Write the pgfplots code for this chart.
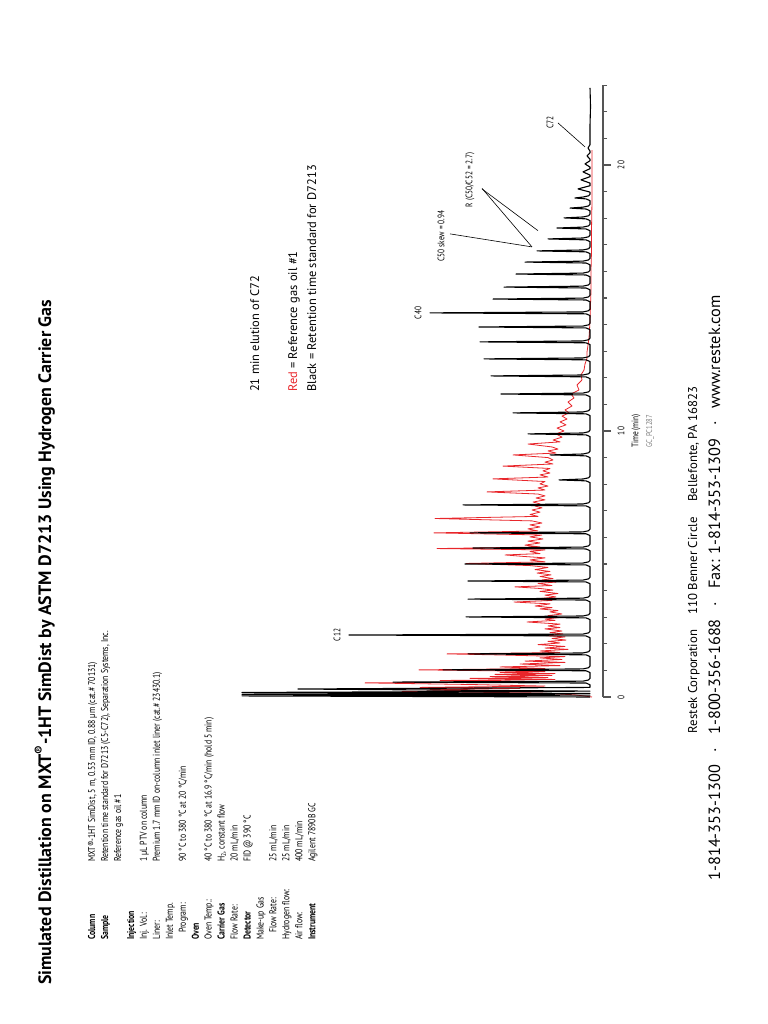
\documentclass[border=0pt]{standalone}
\usepackage{pgfplots}
\pgfplotsset{compat=1.18}
\usepackage{fontspec}
\setmainfont{PT Sans}
\newfontfamily\cond[FakeStretch=0.78]{PT Sans}
\usepackage{graphicx}
\definecolor{rtred}{HTML}{E8262B}
\definecolor{axgray}{HTML}{555555}
\begin{document}
\begin{tikzpicture}[x=1bp,y=1bp]
\path[use as bounding box] (0,0) rectangle (768,1024);
% title
\node[rotate=90, anchor=base west, inner sep=0] at (51,39)
  {\resizebox{685bp}{!}{\fontsize{16}{20}\selectfont\bfseries Simulated Distillation on MXT\textsuperscript{®}-1HT SimDist by ASTM D7213 Using Hydrogen Carrier Gas}};
% info block
\node[rotate=90, anchor=north west, inner sep=0, font=\cond\fontsize{10}{13}\selectfont] at (85.9,84) {%
\begin{tabular}{@{}p{78bp}@{}l@{}}
\textbf{Column} & MXT®-1HT SimDist, 5 m, 0.53 mm ID, 0.88 µm (cat.\# 70131)\\
\textbf{Sample} & Retention time standard for D7213 (C5-C72), Separation Systems, Inc.\\
 & Reference gas oil \#1\\
\textbf{Injection} & \\
Inj. Vol.: & 1 µL PTV on column\\
Liner: & Premium 1.7 mm ID on-column inlet liner (cat.\# 23430.1)\\
Inlet Temp. & \\
\hspace*{7bp}Program: & 90 °C to 380 °C at 20 °C/min\\
\textbf{Oven} & \\
Oven Temp.: & 40 °C to 380 °C at 16.9 °C/min (hold 5 min)\\
\textbf{Carrier Gas} & H\textsubscript{2}, constant flow\\
Flow Rate: & 20 mL/min\\
\textbf{Detector} & FID @ 390 °C\\
Make-up Gas & \\
\hspace*{7bp}Flow Rate: & 25 mL/min\\
Hydrogen flow: & 25 mL/min\\
Air flow: & 400 mL/min\\
\textbf{Instrument} & Agilent 7890B GC\\
\end{tabular}};
% annotations
\node[rotate=90, anchor=base west, inner sep=0, font=\fontsize{12.5}{14}\selectfont] at (259,632) {21 min elution of C72};
\node[rotate=90, anchor=base west, inner sep=0, font=\fontsize{12.5}{14}\selectfont] at (297,632) {{\color{rtred}Red} = Reference gas oil \#1};
\node[rotate=90, anchor=base west, inner sep=0, font=\fontsize{12.5}{14}\selectfont] at (316,632) {Black = Retention time standard for D7213};
% footer
\node[rotate=90, anchor=base, inner sep=0] at (697,464)
  {\resizebox{346bp}{!}{\fontsize{11}{13}\selectfont Restek Corporation\hspace{1.2em}110 Benner Circle\hspace{1.2em}Bellefonte, PA 16823}};
\node[rotate=90, anchor=base, inner sep=0] at (720,436)
  {\resizebox{585bp}{!}{\fontsize{13}{16}\selectfont 1-814-353-1300\hspace{0.8em}·\hspace{0.8em}1-800-356-1688\hspace{0.8em}·\hspace{0.8em}Fax: 1-814-353-1309\hspace{0.8em}·\hspace{0.8em}www.restek.com}};
\begin{axis}[
  at={(240bp,327bp)}, anchor=south west,
  scale only axis, width=363bp, height=611.8bp,
  xmin=-363, xmax=0, ymin=0, ymax=23,
  axis x line=none, axis y line*=right,
  xtick=\empty,
  y axis line style={draw=axgray, line width=1.6bp},
  ytick={0,10,20}, minor ytick={1,...,23},
  tick align=outside,
  major tick length=8bp, minor tick length=4bp,
  tick style={draw=axgray, line width=1.1bp},
  yticklabel style={rotate=90, anchor=north, font=\cond\fontsize{9.5}{10}\selectfont, inner sep=1.5bp},
  yticklabel shift=5bp,
  /pgf/number format/assume math mode=true,
  clip=false, no markers,
]
\addplot[rtred, line width=0.8bp, line join=round] coordinates {
(-11,0.00) (-28,0.08) (-63,0.15) (-201,0.21) (-123,0.24) (-173,0.28) (-83,0.32) (-183,0.36) (-58,0.41) (-133,0.47) (-238,0.53) (-63,0.58) (-163,0.62) (-48,0.66) (-133,0.70) (-55,0.73) (-113,0.77) (-51,0.81) (-108,0.85) (-48,0.88) (-103,0.92) (-58,0.96) (-184,1.02) (-58,1.07) (-103,1.13) (-43,1.18) (-83,1.24) (-38,1.30) (-78,1.35) (-41,1.41) (-63,1.47) (-38,1.52) (-103,1.58) (-156,1.62) (-43,1.67) (-63,1.73) (-35,1.79) (-58,1.84) (-38,1.90) (-65,1.97) (-43,2.03) (-55,2.09) (-37,2.14) (-51,2.20) (-38,2.26) (-58,2.31) (-40,2.37) (-53,2.42) (-41,2.48) (-58,2.56) (-43,2.61) (-55,2.67) (-43,2.74) (-76,2.82) (-48,2.88) (-58,2.93) (-43,2.99) (-55,3.06) (-41,3.12) (-53,3.20) (-45,3.25) (-63,3.31) (-51,3.36) (-68,3.42) (-53,3.50) (-89,3.57) (-51,3.63) (-63,3.70) (-47,3.76) (-58,3.83) (-45,3.89) (-63,3.97) (-50,4.02) (-63,4.08) (-88,4.14) (-51,4.19) (-65,4.27) (-47,4.32) (-61,4.40) (-50,4.45) (-63,4.53) (-52,4.59) (-66,4.66) (-53,4.72) (-68,4.79) (-55,4.87) (-73,4.94) (-137,5.02) (-58,5.08) (-73,5.15) (-58,5.23) (-78,5.28) (-98,5.34) (-63,5.39) (-73,5.47) (-58,5.53) (-166,5.58) (-63,5.64) (-78,5.71) (-63,5.79) (-75,5.86) (-60,5.94) (-73,6.02) (-61,6.09) (-169,6.17) (-65,6.24) (-75,6.32) (-63,6.39) (-73,6.47) (-61,6.54) (-71,6.62) (-168,6.71) (-65,6.79) (-73,6.86) (-63,6.95) (-71,7.03) (-61,7.11) (-68,7.18) (-63,7.26) (-70,7.33) (-58,7.41) (-67,7.48) (-58,7.56) (-65,7.63) (-116,7.71) (-58,7.78) (-65,7.86) (-55,7.93) (-63,8.01) (-58,8.10) (-110,8.20) (-55,8.27) (-63,8.35) (-53,8.42) (-60,8.50) (-53,8.59) (-100,8.68) (-50,8.76) (-58,8.83) (-50,8.91) (-55,9.00) (-90,9.10) (-47,9.17) (-55,9.25) (-45,9.32) (-51,9.40) (-75,9.51) (-43,9.59) (-50,9.66) (-41,9.77) (-47,9.89) (-39,10.00) (-46,10.11) (-37,10.23) (-43,10.34) (-36,10.45) (-41,10.56) (-34,10.68) (-38,10.79) (-31,10.94) (-35,11.09) (-29,11.24) (-32,11.39) (-24,11.54) (-26,11.73) (-21,11.92) (-22,12.11) (-19,12.29) (-18,12.52) (-16,12.74) (-16,12.97) (-15,13.23) (-14,13.50) (-13.5,13.80) (-13,14.17) (-12.5,14.74) (-12,15.30) (-12,16.05) (-11.5,16.80) (-11.5,17.56) (-11,18.68) (-11,19.81) (-11,20.56)
};
\addplot[black, line width=1.1bp, line join=round] coordinates {
(-13,0.00) (-361,0.04) (-13,0.07) (-361,0.10) (-13,0.135) (-361,0.17) (-13,0.22) (-305,0.30) (-13,0.36)
(-13,0.46) (-17,0.525) (-210,0.56) (-20,0.595) (-14.5,0.64) (-13,0.70)
(-13,0.92) (-17,0.985) (-160,1.02) (-20,1.055) (-14.5,1.10) (-13,1.16)
(-13,1.52) (-17,1.585) (-135,1.62) (-20,1.655) (-14.5,1.70) (-13,1.76)
(-13,2.23) (-17,2.295) (-254,2.33) (-20,2.365) (-14.5,2.41) (-13,2.47)
(-13,2.91) (-17,2.975) (-137,3.01) (-20,3.045) (-14.5,3.09) (-13,3.15)
(-13,3.58) (-17,3.645) (-135,3.68) (-20,3.715) (-14.5,3.76) (-13,3.82)
(-13,4.26) (-17,4.325) (-135,4.36) (-20,4.395) (-14.5,4.44) (-13,4.50)
(-13,4.90) (-17,4.965) (-138,5.00) (-20,5.035) (-14.5,5.08) (-13,5.14)
(-13,5.50) (-17,5.565) (-130,5.60) (-20,5.635) (-14.5,5.68) (-13,5.74)
(-13,6.07) (-17,6.135) (-133,6.17) (-20,6.205) (-14.5,6.25) (-13,6.31)
(-13,7.12) (-17,7.185) (-140,7.22) (-20,7.255) (-14.5,7.30) (-13,7.36)
(-13,8.06) (-17,8.125) (-44,8.16) (-20,8.195) (-14.5,8.24) (-13,8.30)
(-13,9.00) (-17,9.065) (-53,9.10) (-20,9.135) (-14.5,9.18) (-13,9.24)
(-13,9.79) (-17,9.855) (-75,9.89) (-20,9.925) (-14.5,9.97) (-13,10.03)
(-13,10.58) (-17,10.645) (-90,10.68) (-20,10.715) (-14.5,10.76) (-13,10.82)
(-13,11.29) (-17,11.355) (-102,11.39) (-20,11.425) (-14.5,11.47) (-13,11.53)
(-13,11.97) (-17,12.035) (-112,12.07) (-20,12.105) (-14.5,12.15) (-13,12.21)
(-13,12.61) (-17,12.675) (-119,12.71) (-20,12.745) (-14.5,12.79) (-13,12.85)
(-13,13.25) (-17,13.315) (-123,13.35) (-20,13.385) (-14.5,13.43) (-13,13.49)
(-13,13.81) (-17,13.875) (-124,13.91) (-20,13.945) (-14.5,13.99) (-13,14.05)
(-13,14.34) (-17,14.405) (-173,14.44) (-20,14.475) (-14.5,14.52) (-13,14.58)
(-13,14.86) (-17,14.925) (-110,14.96) (-20,14.995) (-14.5,15.04) (-13,15.10)
(-13,15.31) (-17,15.375) (-99,15.41) (-20,15.445) (-14.5,15.49) (-13,15.55)
(-13,15.80) (-17,15.865) (-87,15.90) (-20,15.935) (-14.5,15.98) (-13,16.04)
(-13,16.25) (-17,16.315) (-78,16.35) (-20,16.385) (-14.5,16.43) (-13,16.49)
(-13,16.67) (-17,16.735) (-66,16.77) (-20,16.805) (-14.5,16.85) (-13,16.91)
(-13,17.12) (-17,17.185) (-55,17.22) (-20,17.255) (-14.5,17.30) (-13,17.36)
(-13,17.53) (-17,17.595) (-46,17.63) (-20,17.665) (-14.5,17.71) (-13,17.77)
(-13,17.91) (-17,17.975) (-39,18.01) (-20,18.045) (-14.5,18.09) (-13,18.15)
(-13,18.28) (-17,18.345) (-33,18.38) (-20,18.415) (-14.5,18.46) (-13,18.52)
(-13,18.66) (-17,18.725) (-28,18.76) (-20,18.795) (-14.5,18.84) (-13,18.90)
(-13,18.98) (-25,19.10) (-13,19.22)
(-13,19.32) (-22,19.44) (-13,19.56)
(-13,19.62) (-20,19.74) (-13,19.86)
(-13,19.92) (-18,20.04) (-13,20.16)
(-13,20.22) (-16,20.34) (-13,20.46)
(-13,20.52) (-15,20.64) (-13,20.76)
(-13,21.5) (-12.5,22.2) (-13,22.9)
};
\node[rotate=90, font=\cond\fontsize{9.5}{10}\selectfont] at (axis cs:-266,2.33) {C12};
\node[rotate=90, font=\cond\fontsize{9.5}{10}\selectfont] at (axis cs:-185,14.44) {C40};
\node[rotate=90, font=\cond\fontsize{9.5}{10}\selectfont] at (axis cs:-162,17.33) {C50 skew = 0.94};
\node[rotate=90, font=\cond\fontsize{9.5}{10}\selectfont] at (axis cs:-133,19.44) {R (C50/C52 = 2.7)};
\node[rotate=90, font=\cond\fontsize{9.5}{10}\selectfont] at (axis cs:-53,21.6) {C72};
\draw[line width=0.6bp] (axis cs:-153,17.41) -- (axis cs:-71,16.92);
\draw[line width=0.6bp] (axis cs:-121,19.12) -- (axis cs:-71,16.92);
\draw[line width=0.6bp] (axis cs:-121,19.10) -- (axis cs:-65,17.53);
\draw[line width=0.6bp] (axis cs:-45,21.58) -- (axis cs:-18,20.68);
\node[rotate=90, font=\cond\fontsize{9.5}{10}\selectfont] at (axis cs:33,10) {Time (min)};
\node[rotate=90, font=\cond\fontsize{8.5}{10}\selectfont, text=gray] at (axis cs:47,10) {GC\_PC1287};
\end{axis}
\end{tikzpicture}
\end{document}
